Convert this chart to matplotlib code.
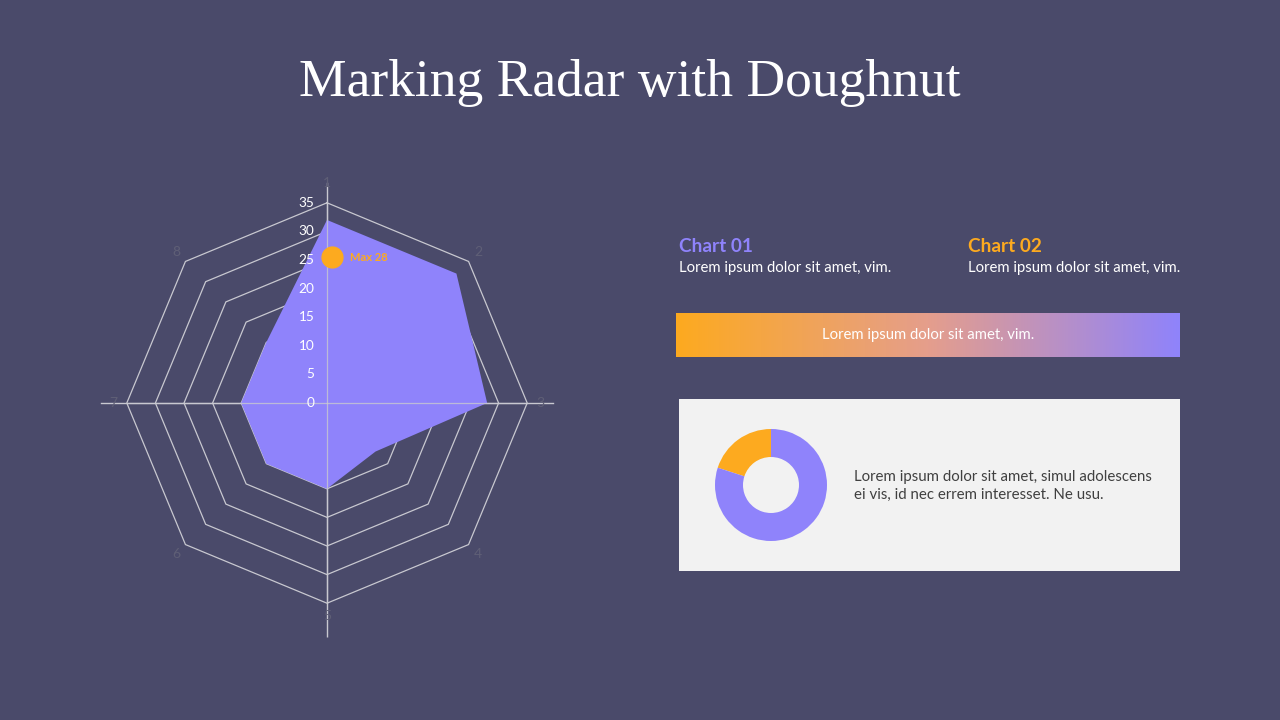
import numpy as np
import matplotlib
matplotlib.use("Agg")
import matplotlib.pyplot as plt
import matplotlib.transforms as mtransforms
from matplotlib.colors import LinearSegmentedColormap

# data
categories = ["1", "2", "3", "4", "5", "6", "7", "8"]
values = [32, 32, 28, 12, 15, 15, 15, 15]
rings = [5, 10, 15, 20, 25, 30, 35]
tick_labels = [0, 5, 10, 15, 20, 25, 30, 35]
max_label = "Max 28"
max_marker_value = 25.5
donut_values = [20, 80]

BG = "#4a4a6a"
PURPLE = "#8f83fb"
ORANGE = "#fdaa1f"
GRID = "#c8c8d0"

plt.rcParams["font.family"] = ["Lato", "DejaVu Sans"]

W, H = 1280, 720
fig = plt.figure(figsize=(12.8, 7.2), dpi=100, facecolor=BG)

# background canvas in pixel coordinates
bg = fig.add_axes([0, 0, 1, 1])
bg.set_xlim(0, W)
bg.set_ylim(H, 0)
bg.axis("off")

bg.text(630, 83, "Marking Radar with Doughnut", ha="center", va="center",
        fontsize=38.5, color="white", family=["Liberation Serif", "DejaVu Serif"])

# radar
cx, cy, px_per_unit, rmax = 327, 403, 5.72, 41
rad = rmax * px_per_unit
ax = fig.add_axes([(cx - rad) / W, (H - cy - rad) / H, 2 * rad / W, 2 * rad / H],
                  projection="polar")
ax.set_facecolor("none")
ax.set_theta_zero_location("N")
ax.set_theta_direction(-1)
ax.set_ylim(0, rmax)
ax.grid(False)
ax.set_xticks([])
ax.set_yticks([])
ax.spines["polar"].set_visible(False)

n = len(categories)
theta = np.arange(n) * 2 * np.pi / n
theta_closed = np.append(theta, theta[0])

for r in rings:
    ax.plot(theta_closed, [r] * (n + 1), color=GRID, lw=0.9, zorder=1)
# main axis lines (vertical and horizontal only)
ext = {0: 38.5, 1: 39.5, 2: 41, 3: 39.5}
for i, t in enumerate([0, np.pi / 2, np.pi, 3 * np.pi / 2]):
    ax.plot([t, t], [0, ext[i]], color=GRID, lw=1.0, zorder=1)

vals_closed = values + [values[0]]
ax.fill(theta_closed, vals_closed, color=PURPLE, zorder=2, lw=0)
# axis lines drawn over the fill
for t in [0, np.pi / 2, np.pi, 3 * np.pi / 2]:
    ax.plot([t, t], [0, 35], color=GRID, lw=0.9, zorder=3, alpha=0.8)

for t, lab in zip(theta, categories):
    r_lab = 38.4 if lab == "1" else 37.3
    ax.text(t, r_lab, lab, ha="center", va="center", fontsize=10, color="#5f5f76")

left_off = mtransforms.offset_copy(ax.transData, fig=fig, x=-9, y=0, units="points")
for v in tick_labels:
    ax.text(0, v, str(v), transform=left_off, ha="right", va="center",
            fontsize=9.8, color="white", zorder=4)

ax.plot([np.deg2rad(2)], [max_marker_value], "o", color=ORANGE, ms=15, zorder=5)
mk_off = mtransforms.offset_copy(ax.transData, fig=fig, x=13, y=0, units="points")
ax.text(np.deg2rad(2), max_marker_value, max_label, transform=mk_off,
        ha="left", va="center", fontsize=8, fontweight="bold", color=ORANGE, zorder=5)

# right side texts
bg.text(679, 246, "Chart 01", ha="left", va="center", fontsize=13.7, fontweight="bold", color=PURPLE)
bg.text(679, 268, "Lorem ipsum dolor sit amet, vim.", ha="left", va="center", fontsize=10.7, color="white")
bg.text(968, 246, "Chart 02", ha="left", va="center", fontsize=13.7, fontweight="bold", color=ORANGE)
bg.text(968, 268, "Lorem ipsum dolor sit amet, vim.", ha="left", va="center", fontsize=10.7, color="white")

# gradient bar
cmap = LinearSegmentedColormap.from_list("grad", [ORANGE, "#e59e8c", PURPLE])
grad = np.linspace(0, 1, 256).reshape(1, -1)
bg.imshow(grad, cmap=cmap, extent=[676, 1180, 357, 313], aspect="auto", zorder=1)
bg.set_xlim(0, W)
bg.set_ylim(H, 0)
bg.text(928, 335, "Lorem ipsum dolor sit amet, vim.", ha="center", va="center",
        fontsize=10.7, color="white", zorder=2)

# panel
bg.add_patch(plt.Rectangle((679, 399), 501, 172, facecolor="#f2f2f2", edgecolor="none", zorder=1))
bg.text(854, 486, "Lorem ipsum dolor sit amet, simul adolescens\nei vis, id nec errem interesset. Ne usu.",
        ha="left", va="center", fontsize=10.8, color="#404040", linespacing=1.4, zorder=2)

# doughnut
dcx, dcy, dr = 771, 485, 56
dax = fig.add_axes([(dcx - dr) / W, (H - dcy - dr) / H, 2 * dr / W, 2 * dr / H])
dax.pie(donut_values, colors=[ORANGE, PURPLE], startangle=90, counterclock=True,
        radius=1, wedgeprops=dict(width=0.5, linewidth=0))
dax.set_xlim(-1, 1)
dax.set_ylim(-1, 1)
dax.set_aspect("equal")
dax.axis("off")

fig.savefig("out.png", dpi=100, facecolor=BG)
